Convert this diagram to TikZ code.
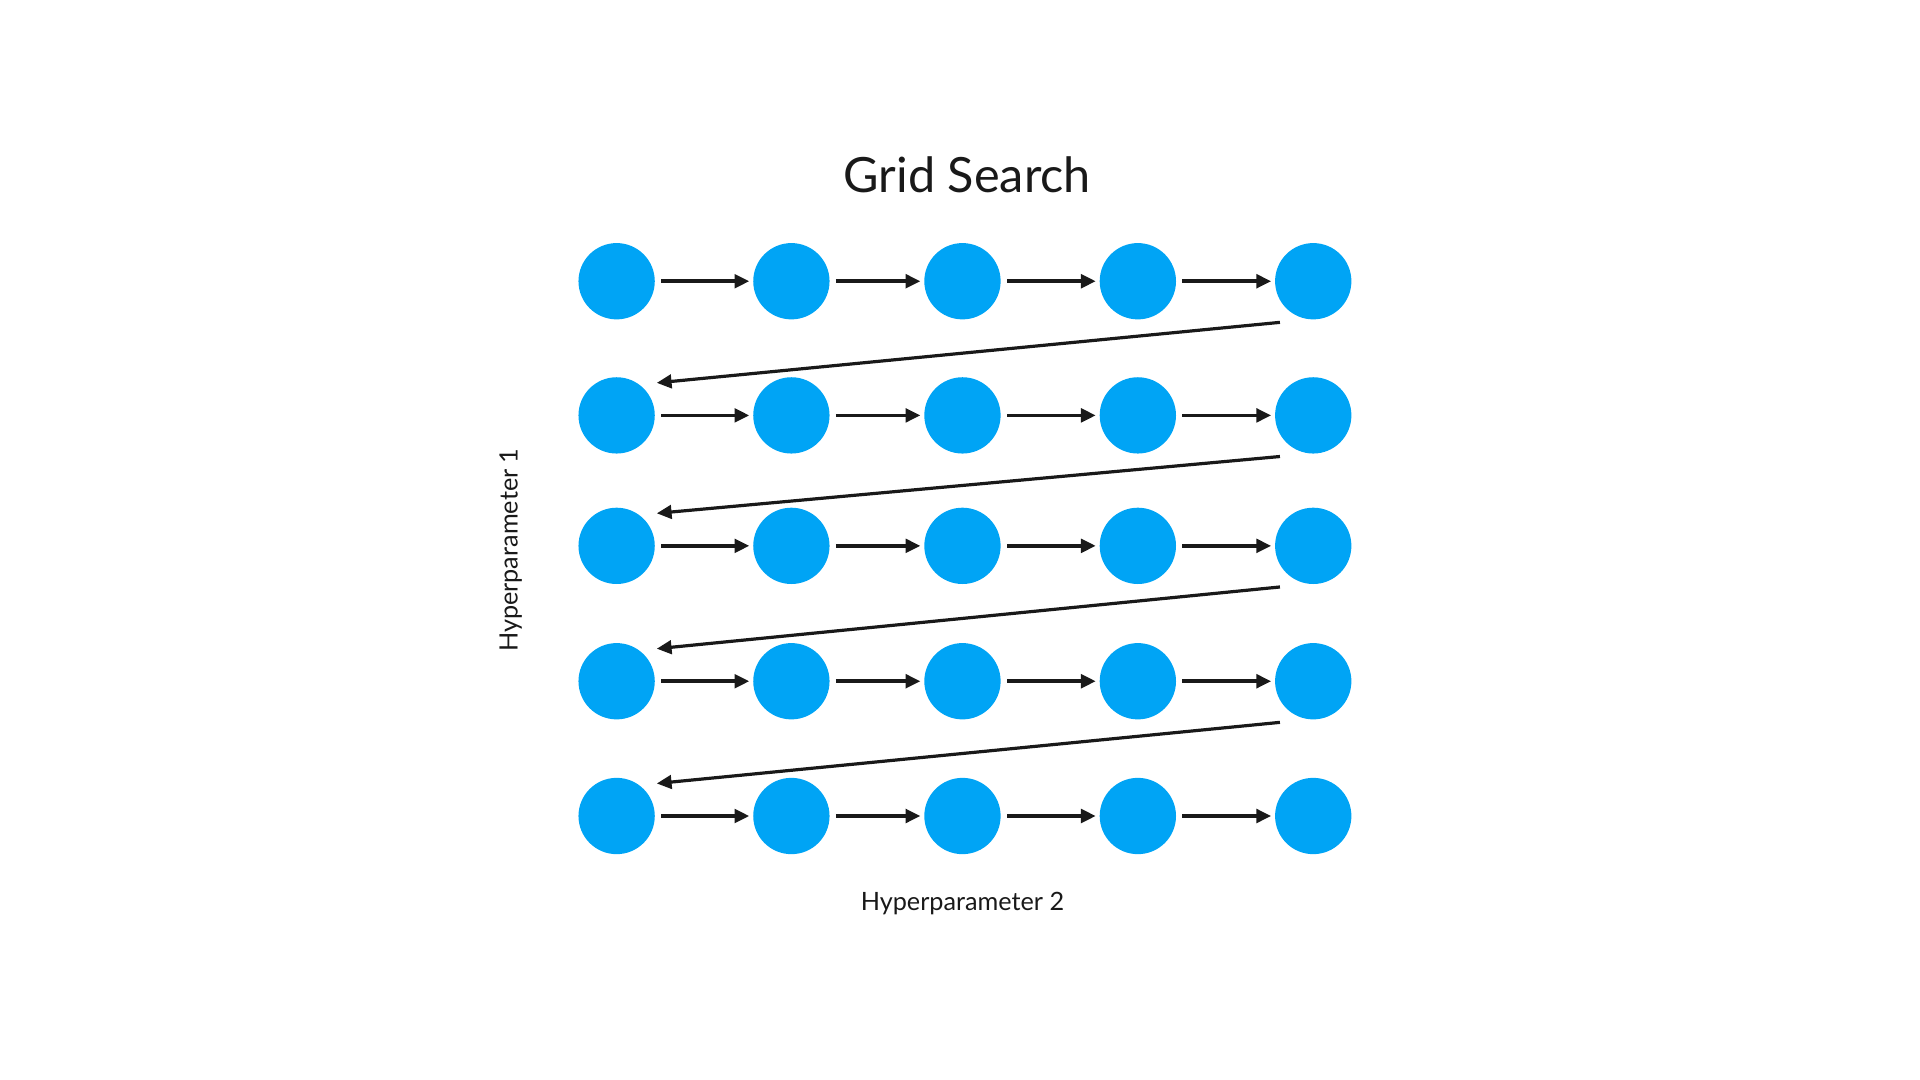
\documentclass[tikz,border=0pt]{standalone}
\usepackage{fontspec}
\setmainfont{Lato}
\usetikzlibrary{arrows.meta,calc}
\definecolor{dotblue}{RGB}{0,164,245}
\definecolor{ink}{RGB}{25,25,25}
\tikzset{
  dot/.style={circle,fill=dotblue,draw=none,minimum size=62pt,inner sep=0pt},
  arr/.style={draw=ink,line width=2.9pt,-{Triangle[length=12pt,width=11pt]}},
  lbl/.style={text=ink,font=\fontsize{20.5}{24}\selectfont,inner sep=0pt}
}
\begin{document}
\begin{tikzpicture}[x=1pt,y=1pt]
\useasboundingbox (0,0) rectangle (1560,-877.5);
\node[text=ink,font=\fontsize{39.5}{46}\selectfont,inner sep=0pt] (title) at (786,-142) {Grid Search};
\foreach \r/\y in {1/228.5,2/337.5,3/443.5,4/553.5,5/663}{
  \foreach \c/\x in {1/501,2/643,3/782,4/924.5,5/1067}{
    \node[dot] (n\r\c) at (\x,-\y) {};
  }
}
\foreach \r in {1,...,5}{
  \foreach \c/\d in {1/2,2/3,3/4,4/5}{
    \draw[arr,shorten <=5pt,shorten >=3pt] (n\r\c) -- (n\r\d);
  }
}
\foreach \r/\s in {1/2,2/3,3/4,4/5}{
  \draw[arr,line width=2.6pt] ($(n\r5)+(231:43)$) -- ($(n\s1)+(39:42)$);
}
\node[lbl] (h2) at (782,-734) {Hyperparameter 2};
\node[lbl,rotate=90] (h1) at (415,-447) {Hyperparameter 1};
\end{tikzpicture}
\end{document}
